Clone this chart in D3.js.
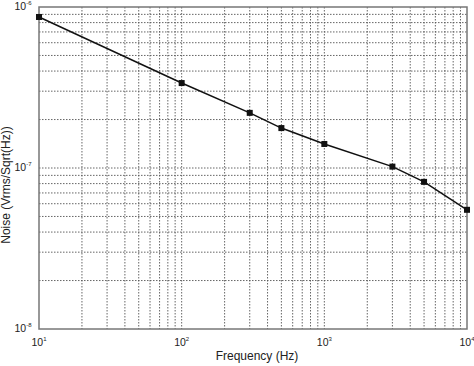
<!DOCTYPE html>
<html>
<head>
<meta charset="utf-8">
<script src="https://cdn.jsdelivr.net/npm/d3@7"></script>
<style>
  body { margin: 0; background: #fff; }
  svg { font-family: "Liberation Sans", Arial, sans-serif; }
</style>
</head>
<body>
<svg id="chart" width="474" height="366"></svg>
<script>
// measured noise (Vrms/sqrt(Hz)) vs frequency (Hz)
const freqs = [10, 100, 300, 500, 1000, 3000, 5000, 10000];
const noise = [8.67e-7, 3.37e-7, 2.2e-7, 1.77e-7, 1.41e-7, 1.02e-7, 8.2e-8, 5.5e-8];
const xTickExps = [1, 2, 3, 4];
const yTickExps = [-6, -7, -8];

const margin = {top: 7, right: 7, bottom: 37, left: 39};
const svg = d3.select("#chart");
const width = +svg.attr("width");
const height = +svg.attr("height");

const x = d3.scaleLog()
  .domain([10, 10000])
  .range([margin.left, width - margin.right]);
const y = d3.scaleLog()
  .domain([1e-8, 1e-6])
  .range([height - margin.bottom, margin.top]);

// grid lines at all decade and sub-decade ticks
const xGrid = x.ticks().filter(v => v > 10 && v < 10000);
const yGrid = y.ticks().filter(v => v > 1e-8 && v < 1e-6);

svg.append("g")
  .selectAll("line")
  .data(xGrid)
  .enter().append("line")
  .attr("x1", d => x(d)).attr("x2", d => x(d))
  .attr("y1", margin.top).attr("y2", height - margin.bottom)
  .attr("stroke", "#555")
  .attr("stroke-width", 0.9)
  .attr("stroke-dasharray", "1.5,1.5");

svg.append("g")
  .selectAll("line")
  .data(yGrid)
  .enter().append("line")
  .attr("x1", margin.left).attr("x2", width - margin.right)
  .attr("y1", d => y(d)).attr("y2", d => y(d))
  .attr("stroke", "#555")
  .attr("stroke-width", 0.9)
  .attr("stroke-dasharray", "1.5,1.5");

// frame
svg.append("rect")
  .attr("x", margin.left)
  .attr("y", margin.top)
  .attr("width", width - margin.left - margin.right)
  .attr("height", height - margin.top - margin.bottom)
  .attr("fill", "none")
  .attr("stroke", "#777")
  .attr("stroke-width", 1.5);

// tick labels: 10 with superscript exponent
const xLab = svg.append("g").selectAll("text")
  .data(xTickExps)
  .enter().append("text")
  .attr("x", d => x(Math.pow(10, d)))
  .attr("y", height - margin.bottom + 17)
  .attr("text-anchor", "middle")
  .attr("font-size", 10.5)
  .attr("fill", "#222");
xLab.append("tspan").text("10");
xLab.append("tspan").attr("dy", -5).attr("font-size", 6).text(d => d);

const yLab = svg.append("g").selectAll("text")
  .data(yTickExps)
  .enter().append("text")
  .attr("x", margin.left - 16)
  .attr("y", d => y(Math.pow(10, d)) + 3)
  .attr("text-anchor", "middle")
  .attr("font-size", 10.5)
  .attr("fill", "#222");
yLab.append("tspan").text("10");
yLab.append("tspan").attr("dy", -5).attr("font-size", 6).text(d => d);

// data line and markers
const pts = freqs.map((f, i) => ({f: f, n: noise[i]}));
const line = d3.line()
  .x(d => x(d.f))
  .y(d => y(d.n));

svg.append("path")
  .datum(pts)
  .attr("fill", "none")
  .attr("stroke", "#111")
  .attr("stroke-width", 1.5)
  .attr("d", line);

svg.append("g")
  .selectAll("rect")
  .data(pts)
  .enter().append("rect")
  .attr("x", d => x(d.f) - 3)
  .attr("y", d => y(d.n) - 3)
  .attr("width", 6)
  .attr("height", 6)
  .attr("fill", "#111");

// axis titles
svg.append("text")
  .attr("x", 257)
  .attr("y", height - 6)
  .attr("text-anchor", "middle")
  .attr("font-size", 12)
  .attr("fill", "#222")
  .text("Frequency (Hz)");

svg.append("text")
  .attr("transform", "translate(10, 185) rotate(-90)")
  .attr("text-anchor", "middle")
  .attr("font-size", 12)
  .attr("fill", "#222")
  .text("Noise (Vrms/Sqrt(Hz))");
</script>
</body>
</html>
